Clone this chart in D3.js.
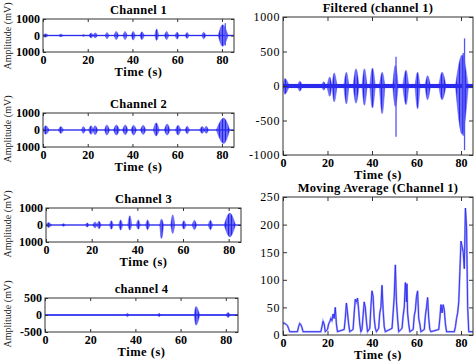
<!DOCTYPE html>
<html lang="en">
<head>
<meta charset="UTF-8">
<title>EMG channels</title>
<script src="https://d3js.org/d3.v7.min.js"></script>
<style>
  body { margin: 0; background: #fff; }
  svg { display: block; font-family: "Liberation Serif", "Times New Roman", serif; }
  .tick line { stroke: #333; }
  .box { fill: none; stroke: #333; stroke-width: 1; }
  .title { font-weight: bold; font-size: 12.5px; text-anchor: middle; }
  .xlab { font-weight: bold; font-size: 12.5px; text-anchor: middle; }
  .ylab { font-size: 10px; text-anchor: middle; fill: #222; }
</style>
</head>
<body>
<div id="chart"></div>
<script>
// ---- data ----
const timeTicks = [0, 20, 40, 60, 80];
const timeMax = 85.4;

// bursts: [start, peak, end, upper, lower]  (mV)
const ch1Bursts = [
  [0, 1, 2.5, 100, -100], [7, 8, 9, 80, -80], [17.5, 18, 18.8, 60, -60],
  [20.5, 21.5, 22.5, 150, -150], [22.5, 23.3, 24.3, 160, -150],
  [27.8, 28.6, 29.5, 180, -200], [31.8, 32.7, 33.8, 250, -250],
  [35.8, 36.7, 37.6, 250, -250], [39.5, 40.3, 41.3, 250, -280],
  [43.3, 44.2, 45.3, 220, -250], [50, 50.8, 51.7, 400, -300],
  [54.3, 55.3, 56.2, 250, -250], [59, 60, 60.8, 200, -220],
  [63.5, 64.5, 65.3, 180, -180], [71, 71.8, 72.8, 200, -200],
  [78.3, 80.3, 82.8, 650, -650]
];
const ch2Bursts = [
  [0, 1.2, 2.8, 250, -250], [6.8, 8, 9.2, 200, -200], [17.2, 18, 19, 200, -200],
  [20.3, 21.5, 22.5, 250, -250], [22.3, 23.3, 24.5, 250, -280],
  [27.5, 28.5, 29.8, 300, -300], [31.5, 32.8, 34.2, 300, -300],
  [35.5, 36.8, 38, 300, -280], [39.3, 40.5, 41.8, 280, -300],
  [43.5, 44.8, 46, 280, -260], [49.3, 50.6, 52, 420, -350],
  [54.2, 55.5, 56.8, 350, -300], [59.2, 60.4, 61.6, 280, -300],
  [63.5, 64.5, 65.5, 220, -220], [70, 71.2, 72.3, 200, -200],
  [72, 73, 74, 220, -200], [77.5, 80.8, 83.5, 700, -800]
];
const ch3Bursts = [
  [0, 1, 2.5, 150, -150], [6.8, 7.6, 8.5, 80, -80], [17.3, 18, 18.8, 130, -130],
  [20.5, 21.5, 22.3, 180, -180], [22.3, 23.2, 24.2, 220, -220],
  [27.8, 28.6, 29.5, 250, -250], [31.8, 32.7, 33.6, 300, -300],
  [35.8, 36.7, 37.6, 550, -300], [39.5, 40.4, 41.3, 300, -250],
  [43.6, 44.5, 45.4, 300, -280], [49.8, 50.6, 51.5, 350, -800],
  [54.6, 55.5, 56.4, 600, -500], [59.5, 60.4, 61.3, 250, -250],
  [64, 65, 66, 280, -280], [71, 72, 73, 280, -280], [78, 80.5, 83, 700, -700]
];
const ch4Bursts = [
  [35.8, 36.5, 37.2, 50, -50], [49.8, 50.5, 51.2, 50, -50],
  [66, 66.8, 68.5, 250, -300], [80, 81, 82, 70, -70]
];
const filtBursts = [
  [0, 0.8, 2.8, 110, -120], [6.5, 7.5, 8.8, 70, -75], [17.3, 18.3, 19.3, 60, -60],
  [19.8, 21, 22, 130, -150], [22, 23, 24.3, 190, -230],
  [27.3, 28.5, 29.6, 200, -260], [31.5, 32.8, 34.2, 250, -250],
  [35.5, 36.6, 37.8, 250, -280], [39, 40.2, 41.5, 260, -320],
  [43.3, 44.6, 45.8, 200, -400], [49.3, 50.5, 51.8, 300, -300],
  [53.8, 55.3, 56.5, 230, -270], [59.3, 60.5, 61.6, 200, -330],
  [63.8, 65, 66.3, 150, -200], [70, 71.5, 73.3, 200, -200],
  [77.5, 80.5, 83.3, 450, -700]
];
// isolated spikes: [time, upper, lower]
const filtSpikes = [[50.8, 425, -735], [81, 480, -720], [81.6, 690, -930]];
const ch1Spikes = [[81.5, 750, -600]];
const ch3Spikes = [[50.5, 250, -750]];

// moving average (channel 1)
const maTime = [0, 0.5, 1, 1.5, 2, 2.5, 3, 6.5, 7, 7.5, 8, 8.5, 9, 17, 17.5, 18, 18.5, 19,
  20, 20.5, 21, 21.5, 22, 22.5, 23, 23.5, 24, 24.5, 27.5, 28, 28.5, 29, 29.5, 30,
  31.5, 32, 32.5, 33, 33.5, 34, 34.5, 35, 35.5, 36, 36.5, 37, 37.5, 38,
  39, 39.5, 40, 40.5, 41, 41.5, 42, 43, 43.5, 44, 44.5, 45, 45.5, 46,
  49, 49.5, 50, 50.5, 51, 51.5, 52, 53.5, 54, 54.5, 55, 55.5, 55.7, 56, 56.5, 57,
  58.5, 59, 59.5, 60, 60.5, 61, 61.5, 62, 63.5, 64, 64.5, 65, 65.5, 66, 66.5,
  70, 70.5, 71, 71.5, 72, 72.5, 73, 73.5, 77, 77.5, 78, 78.5, 79, 79.5, 80, 80.5,
  81, 81.5, 82, 82.5, 83, 83.5, 85.4];
const maValue = [20, 22, 20, 19, 17, 12, 6, 6, 15, 21, 19, 14, 6, 6, 15, 25, 20, 6,
  10, 20, 24, 30, 26, 38, 30, 50, 20, 6, 10, 30, 58, 40, 20, 6,
  10, 40, 65, 60, 67, 45, 20, 6, 10, 35, 60, 50, 25, 6,
  12, 50, 80, 70, 30, 12, 6, 12, 40, 50, 90, 45, 15, 6,
  12, 40, 70, 127, 60, 30, 6, 12, 35, 50, 95, 60, 93, 40, 20, 6,
  10, 35, 45, 70, 80, 30, 20, 6, 10, 35, 50, 68, 30, 10, 6,
  10, 30, 55, 40, 55, 45, 20, 6, 6, 15, 30, 40, 60, 115, 170, 160,
  150, 120, 230, 195, 50, 6, 6];

// ---- layout ----
const W = 474, H = 361;
const svg = d3.select("#chart").append("svg").attr("width", W).attr("height", H);
const defs = svg.append("defs");

// dense-signal texture
const pat = defs.append("pattern").attr("id", "emg").attr("patternUnits", "userSpaceOnUse")
  .attr("width", 3).attr("height", 4);
pat.append("rect").attr("width", 3).attr("height", 4).attr("fill", "#6a6afa");
pat.append("rect").attr("width", 1).attr("height", 4).attr("fill", "#2626e8");

const blue = "#2a2aee";

function panel(cfg, idx) {
  const x = d3.scaleLinear().domain([0, timeMax]).range([cfg.x0, cfg.x1]);
  const y = d3.scaleLinear().domain(cfg.yDomain).range([cfg.y1, cfg.y0]);
  const g = svg.append("g");
  const clipId = "clip" + idx;
  defs.append("clipPath").attr("id", clipId).append("rect")
    .attr("x", cfg.x0).attr("y", cfg.y0).attr("width", cfg.x1 - cfg.x0).attr("height", cfg.y1 - cfg.y0);
  const plot = g.append("g").attr("clip-path", `url(#${clipId})`);

  if (cfg.bursts) {
    const area = d3.area().x(d => x(d[0])).y0(d => y(d[2])).y1(d => y(d[1])).curve(d3.curveMonotoneX);
    plot.selectAll("path.burst").data(cfg.bursts).join("path").attr("class", "burst")
      .attr("d", b => area([[b[0], 0, 0], [b[1], b[3], b[4]], [b[2], 0, 0]]))
      .attr("fill", "url(#emg)").attr("stroke", "#5c5cf8").attr("stroke-width", 0.5);
  }
  if (cfg.noise) {
    plot.append("rect").attr("x", x(0)).attr("width", x(timeMax) - x(0))
      .attr("y", y(cfg.noise)).attr("height", Math.max(1.2, y(-cfg.noise) - y(cfg.noise)))
      .attr("fill", blue);
  }
  if (cfg.spikes) {
    plot.selectAll("line.spike").data(cfg.spikes).join("line").attr("class", "spike")
      .attr("x1", d => x(d[0])).attr("x2", d => x(d[0]))
      .attr("y1", d => y(d[1])).attr("y2", d => y(d[2]))
      .attr("stroke", "#5454f6").attr("stroke-width", 1.3);
  }
  if (cfg.line) {
    const pts = cfg.line[0].map((t, i) => [t, cfg.line[1][i]]);
    const ln = d3.line().x(d => x(d[0])).y(d => y(d[1]));
    plot.append("path").attr("d", ln(pts)).attr("fill", "none")
      .attr("stroke", "#a4a4fc").attr("stroke-width", 2);
    plot.append("path").attr("d", ln(pts)).attr("fill", "none")
      .attr("stroke", blue).attr("stroke-width", 0.9);
  }

  const tk = cfg.tick;
  const fs = cfg.tickFont;
  g.append("g").attr("transform", `translate(0,${cfg.y1})`)
    .call(d3.axisBottom(x).tickValues(timeTicks).tickSize(-tk).tickPadding(3))
    .call(a => a.select(".domain").remove())
    .call(a => a.selectAll("text").attr("font-size", fs).attr("font-weight", "bold")
      .attr("font-family", "Liberation Serif"));
  g.append("g").attr("transform", `translate(0,${cfg.y0})`)
    .call(d3.axisTop(x).tickValues(timeTicks).tickSize(-tk).tickFormat(""))
    .call(a => a.select(".domain").remove());
  g.append("g").attr("transform", `translate(${cfg.x0},0)`)
    .call(d3.axisLeft(y).tickValues(cfg.yTicks).tickSize(-tk).tickPadding(3).tickFormat(cfg.yFormat))
    .call(a => a.select(".domain").remove())
    .call(a => a.selectAll("text").attr("font-size", fs).attr("font-weight", cfg.yBold ? "bold" : "normal")
      .attr("font-family", "Liberation Serif").attr("letter-spacing", cfg.yBold ? 0 : 0.6));
  g.append("g").attr("transform", `translate(${cfg.x1},0)`)
    .call(d3.axisRight(y).tickValues(cfg.yTicks).tickSize(-tk).tickFormat(""))
    .call(a => a.select(".domain").remove());

  g.append("rect").attr("class", "box").attr("x", cfg.x0).attr("y", cfg.y0)
    .attr("width", cfg.x1 - cfg.x0).attr("height", cfg.y1 - cfg.y0);

  g.append("text").attr("class", "title").attr("x", (cfg.x0 + cfg.x1) / 2).attr("y", cfg.y0 - 5)
    .attr("letter-spacing", 0.3).text(cfg.title);
  g.append("text").attr("class", "xlab").attr("x", (cfg.x0 + cfg.x1) / 2).attr("y", cfg.y1 + 24)
    .attr("letter-spacing", 0.5).text("Time (s)");
  if (cfg.ylab) {
    const cy = Math.max(36, (cfg.y0 + cfg.y1) / 2 - 1);
    g.append("text").attr("class", "ylab").attr("transform", `translate(11,${cy}) rotate(-90)`)
      .text("Amplitude (mV)");
  }
}

const absFmt = d => String(Math.abs(d));
const plainFmt = d => String(d);

const panels = [
  { title: "Channel 1", x0: 43, x1: 234, y0: 19, y1: 52, yDomain: [-1000, 1000], yTicks: [-1000, 0, 1000],
    yFormat: absFmt, bursts: ch1Bursts, spikes: ch1Spikes, noise: 40, ylab: true, tick: 3, tickFont: 12, yBold: true },
  { title: "Channel 2", x0: 43, x1: 234, y0: 113, y1: 147, yDomain: [-1000, 1000], yTicks: [-1000, 0, 1000],
    yFormat: absFmt, bursts: ch2Bursts, noise: 40, ylab: true, tick: 3, tickFont: 12, yBold: true },
  { title: "Channel 3", x0: 46, x1: 241, y0: 208, y1: 242, yDomain: [-1000, 1000], yTicks: [-1000, 0, 1000],
    yFormat: absFmt, bursts: ch3Bursts, spikes: ch3Spikes, noise: 40, ylab: true, tick: 3, tickFont: 12, yBold: true },
  { title: "channel 4", x0: 45, x1: 238, y0: 298, y1: 332, yDomain: [-500, 500], yTicks: [-500, 0, 500],
    yFormat: plainFmt, bursts: ch4Bursts, noise: 25, ylab: true, tick: 3, tickFont: 12, yBold: true },
  { title: "Filtered (channel 1)", x0: 283, x1: 473, y0: 17, y1: 155, yDomain: [-1000, 1000],
    yTicks: [-1000, -500, 0, 500, 1000], yFormat: plainFmt, bursts: filtBursts, spikes: filtSpikes, noise: 30,
    tick: 4, tickFont: 12, yBold: false },
  { title: "Moving Average (Channel 1)", x0: 283, x1: 473, y0: 197, y1: 335, yDomain: [0, 250],
    yTicks: [0, 50, 100, 150, 200, 250], yFormat: plainFmt, line: [maTime, maValue],
    tick: 4, tickFont: 12, yBold: false }
];
panels.forEach(panel);
</script>
</body>
</html>
